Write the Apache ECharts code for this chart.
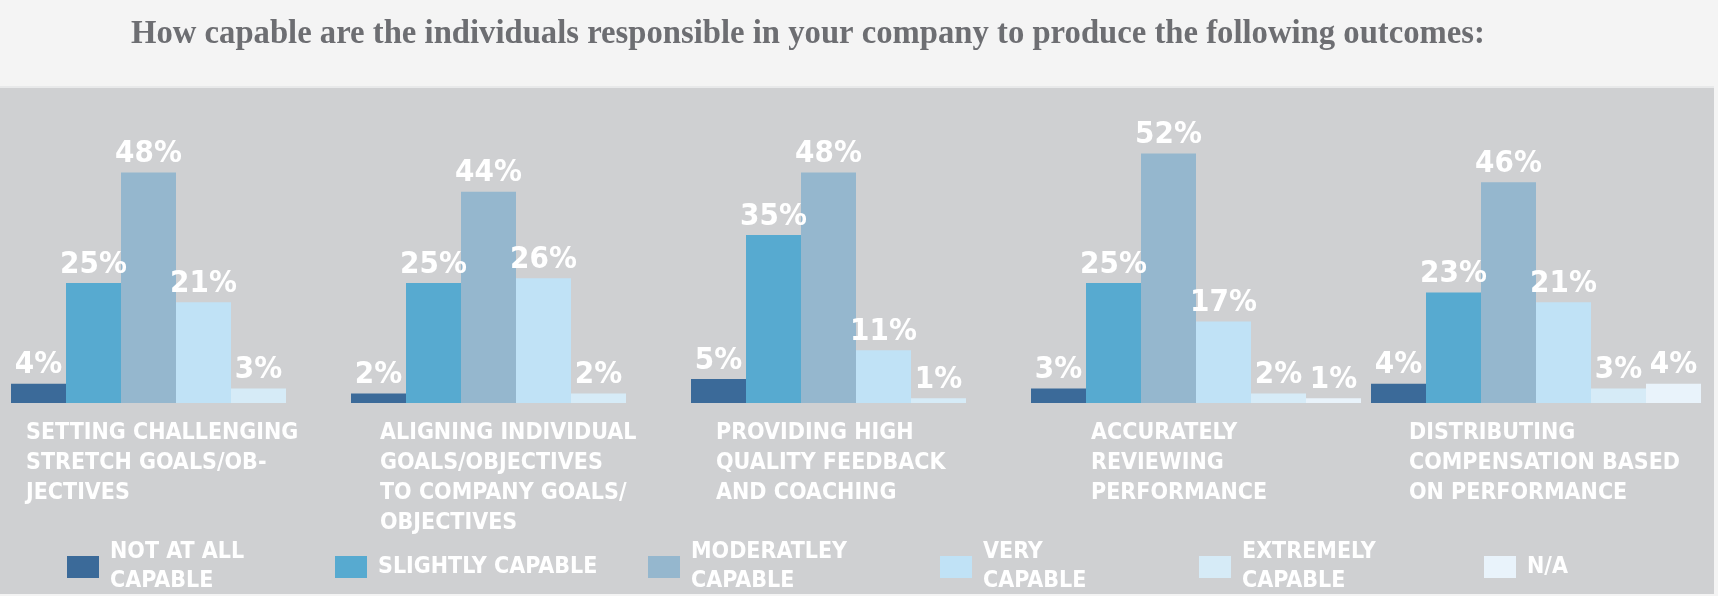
<!DOCTYPE html>
<html>
<head>
<meta charset="utf-8">
<script src="https://cdn.jsdelivr.net/npm/echarts@6/dist/echarts.min.js"></script>
<style>
  html, body { margin: 0; padding: 0; background: #f4f4f4; }
  #chart {
    width: 1718px; height: 596px;
    background:
      linear-gradient(to right, rgba(0,0,0,0) 1714px, #f4f4f4 1714px),
      linear-gradient(to bottom, #f4f4f4 0, #f4f4f4 86px, #e8e9ea 86px, #e8e9ea 88px,
                      #cfd0d2 88px, #cfd0d2 594px, #f4f4f4 594px);
  }
</style>
</head>
<body>
<div id="chart"></div>
<script>
// outcomes (x axis)
var outcomes = [
  'SETTING CHALLENGING\nSTRETCH GOALS/OB-\nJECTIVES',
  'ALIGNING INDIVIDUAL\nGOALS/OBJECTIVES\nTO COMPANY GOALS/\nOBJECTIVES',
  'PROVIDING HIGH\nQUALITY FEEDBACK\nAND COACHING',
  'ACCURATELY\nREVIEWING\nPERFORMANCE',
  'DISTRIBUTING\nCOMPENSATION BASED\nON PERFORMANCE'
];

// answer levels (legend)
var levels = ['NOT AT ALL\nCAPABLE', 'SLIGHTLY CAPABLE', 'MODERATLEY\nCAPABLE',
              'VERY\nCAPABLE', 'EXTREMELY\nCAPABLE', 'N/A'];

// percentages per level, one value per outcome
var notAtAll   = [4, 2, 5, 3, 4];
var slightly   = [25, 25, 35, 25, 23];
var moderately = [48, 44, 48, 52, 46];
var very       = [21, 26, 11, 17, 21];
var extremely  = [3, 2, 1, 2, 3];
var notApplic  = [null, null, null, 1, 4];

var values = [notAtAll, slightly, moderately, very, extremely, notApplic];
var colors = ['#3b6a99', '#57aad0', '#95b7ce', '#c0e2f6', '#d6ebf7', '#e9f3fb'];

// layout tweaks: extra indent of each outcome label, legend text box widths
var labelIndent = [0, 14, 10, 45, 23];
var legendTextWidth = [205, 250, 229, 196, 222, 60];

var font = '"DejaVu Sans Condensed", "DejaVu Sans", sans-serif';

var chart = echarts.init(document.getElementById('chart'));

var series = levels.map(function (name, i) {
  return {
    name: name,
    type: 'bar',
    data: values[i],
    barWidth: 55,
    barGap: '0%',
    itemStyle: { color: colors[i] },
    label: {
      show: true,
      position: 'top',
      distance: 3,
      color: '#ffffff',
      fontFamily: font,
      fontWeight: 'bold',
      fontSize: 31,
      formatter: '{c}%'
    }
  };
});

var option = {
  animation: false,
  title: {
    text: 'How capable are the individuals responsible in your company to produce the following outcomes:',
    left: 126,
    top: 13,
    textStyle: {
      color: '#6d6e72',
      fontFamily: '"Liberation Serif", "DejaVu Serif", serif',
      fontWeight: 'bold',
      fontSize: 32.7
    }
  },
  legend: {
    left: 62,
    top: 533,
    width: 1700,
    itemWidth: 32,
    itemHeight: 22,
    itemGap: 20,
    icon: 'rect',
    data: levels.map(function (n, i) {
      return { name: n, textStyle: { width: legendTextWidth[i] } };
    }),
    textStyle: {
      color: '#ffffff',
      fontFamily: font,
      fontWeight: 'bold',
      fontSize: 23,
      lineHeight: 29,
      padding: [0, 0, 0, 6]
    }
  },
  grid: [
    { left: 6, right: 12, top: 115, bottom: 193, outerBoundsMode: 'none' },
    { left: 26, width: 1700, top: 403, height: 1, outerBoundsMode: 'none', containLabel: false }
  ],
  xAxis: [
    {
      type: 'category',
      gridIndex: 0,
      data: outcomes,
      axisLine: { show: false },
      axisTick: { show: false },
      axisLabel: { show: false }
    },
    {
      type: 'category',
      gridIndex: 1,
      boundaryGap: false,
      data: outcomes.map(function (t, i) {
        return { value: t, textStyle: { align: 'left', padding: [0, 0, 0, labelIndent[i]] } };
      }).concat(['']),
      axisLine: { show: false },
      axisTick: { show: false },
      axisLabel: {
        interval: 0,
        align: 'left',
        verticalAlign: 'top',
        hideOverlap: false,
        margin: 14,
        color: '#ffffff',
        fontFamily: font,
        fontWeight: 'bold',
        fontSize: 23,
        lineHeight: 30
      }
    }
  ],
  yAxis: [
    { type: 'value', gridIndex: 0, min: 0, max: 60, show: false, splitLine: { show: false } },
    { type: 'value', gridIndex: 1, show: false, splitLine: { show: false } }
  ],
  series: series
};

chart.setOption(option);
</script>
</body>
</html>
